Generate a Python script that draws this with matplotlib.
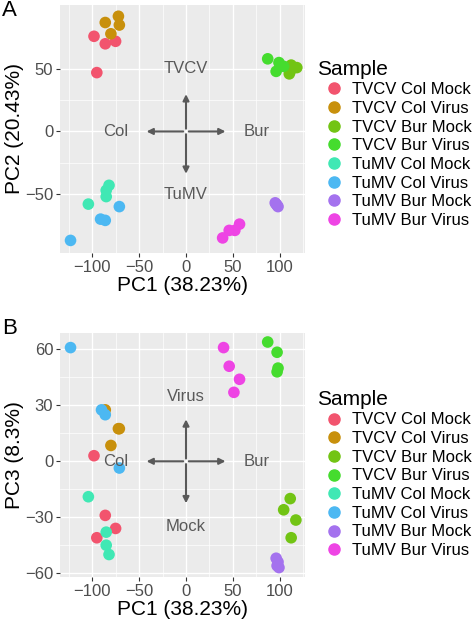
import matplotlib
matplotlib.use("Agg")
import matplotlib.pyplot as plt
from matplotlib.lines import Line2D

plt.rcParams["font.family"] = ["Liberation Sans", "DejaVu Sans"]

samples = ["TVCV Col Mock", "TVCV Col Virus", "TVCV Bur Mock", "TVCV Bur Virus",
           "TuMV Col Mock", "TuMV Col Virus", "TuMV Bur Mock", "TuMV Bur Virus"]
colors = ["#F2546E", "#C8900C", "#72C414", "#45DC2E",
          "#40E8B4", "#4CB8F2", "#A472EE", "#EE44E4"]

# panel B PC1 values
pc1 = {
    "TVCV Col Mock": [-98, -86, -75, -95],
    "TVCV Col Virus": [-86, -72, -71, -80],
    "TVCV Bur Mock": [111, 104, 117, 112],
    "TVCV Bur Virus": [87, 97, 98, 97],
    "TuMV Col Mock": [-104, -85, -85, -82],
    "TuMV Col Virus": [-123, -90, -86, -71],
    "TuMV Bur Mock": [96, 98, 99, 97],
    "TuMV Bur Virus": [40, 46, 57, 51],
}
# panel A PC1 values
pc1_a = {
    "TVCV Col Mock": [-98, -86, -75, -95],
    "TVCV Col Virus": [-86, -72, -71, -80],
    "TVCV Bur Mock": [118, 111, 112, 110],
    "TVCV Bur Virus": [87, 99, 96, 104],
    "TuMV Col Mock": [-82, -85, -85, -104],
    "TuMV Col Virus": [-71, -91, -86, -123],
    "TuMV Bur Mock": [96, 98, 95, 97],
    "TuMV Bur Virus": [39, 46, 52, 57],
}
pc2 = {
    "TVCV Col Mock": [76, 70, 72, 47],
    "TVCV Col Virus": [87, 92, 85, 78],
    "TVCV Bur Mock": [51, 48, 53, 46],
    "TVCV Bur Virus": [58, 55, 48, 52],
    "TuMV Col Mock": [-43, -47, -52, -58],
    "TuMV Col Virus": [-60, -70, -71, -87],
    "TuMV Bur Mock": [-58, -60, -57, -59],
    "TuMV Bur Virus": [-85, -79, -79, -74],
}
pc3 = {
    "TVCV Col Mock": [3, -29, -36, -41],
    "TVCV Col Virus": [27.6, 17.5, 17.5, 8.5],
    "TVCV Bur Mock": [-20, -26, -31.5, -41],
    "TVCV Bur Virus": [64, 58.5, 50, 48],
    "TuMV Col Mock": [-19, -38, -45, -50],
    "TuMV Col Virus": [61, 27.6, 25, -3.6],
    "TuMV Bur Mock": [-52, -54, -57, -56],
    "TuMV Bur Virus": [61, 51, 44, 37],
}

GRAY = "#595959"
fig = plt.figure(figsize=(4.74, 6.23), dpi=100)


def panel(rect, xs, ys, ylim, yticks, ylabel, arrow_y, labels, tag, tag_y, leg_y):
    ax = fig.add_axes(rect)
    ax.set_facecolor("#EBEBEB")
    for s, c in zip(samples, colors):
        ax.scatter(xs[s], ys[s], s=70, color=c, edgecolors="none", zorder=3)
    ax.set_xlim(-134, 127)
    ax.set_ylim(*ylim)
    ax.set_xticks([-100, -50, 0, 50, 100])
    ax.set_yticks(yticks)
    ax.set_xticks([-125, -75, -25, 25, 75, 125], minor=True)
    ymin = [(yticks[i] + yticks[i + 1]) / 2 for i in range(len(yticks) - 1)]
    ax.set_yticks(ymin, minor=True)
    ax.grid(True, which="major", color="white", lw=1.0, zorder=0)
    ax.grid(True, which="minor", color="white", lw=0.5, zorder=0)
    ax.tick_params(which="minor", length=0)
    ax.tick_params(which="major", length=3, color="#333333", labelsize=12, labelcolor="#4D4D4D", pad=2)
    for sp in ax.spines.values():
        sp.set_visible(False)
    ax.set_xlabel("PC1 (38.23%)", fontsize=15, labelpad=1)
    ax.set_ylabel(ylabel, fontsize=15, labelpad=1)
    kw = dict(arrowstyle="-|>", color=GRAY, lw=1.5, mutation_scale=9)
    ax.annotate("", xy=(45, 0), xytext=(0, 0), arrowprops=kw)
    ax.annotate("", xy=(-45, 0), xytext=(0, 0), arrowprops=kw)
    ax.annotate("", xy=(0, arrow_y[0]), xytext=(0, 0), arrowprops=kw)
    ax.annotate("", xy=(0, arrow_y[1]), xytext=(0, 0), arrowprops=kw)
    for (tx, ty, t) in labels:
        ax.text(tx, ty, t, color=GRAY, fontsize=12, ha="center", va="center")
    fig.text(0.005, tag_y, tag, fontsize=16, va="top")
    handles = [Line2D([], [], marker="o", ls="", color=c, markersize=8) for c in colors]
    fig.legend(handles, samples, loc="upper left", bbox_to_anchor=(0.655, leg_y),
               frameon=False, title="Sample", title_fontsize=15, fontsize=12,
               handletextpad=0.1, labelspacing=0.22, alignment="left", borderaxespad=0)
    return ax


panel([0.127, 0.594, 0.517, 0.398], pc1_a, pc2, (-97, 101), [-50, 0, 50],
      "PC2 (20.43%)", (32, -36),
      [(0, 50, "TVCV"), (0, -50, "TuMV"), (-75, 0, "Col"), (75, 0, "Bur")],
      "A", 1.0, 0.915)
panel([0.127, 0.074, 0.517, 0.392], pc1, pc3, (-62, 69), [-60, -30, 0, 30, 60],
      "PC3 (8.3%)", (24, -24),
      [(0, 35, "Virus"), (0, -35, "Mock"), (-75, 0, "Col"), (75, 0, "Bur")],
      "B", 0.49, 0.385)

fig.savefig("out.png", dpi=100)
